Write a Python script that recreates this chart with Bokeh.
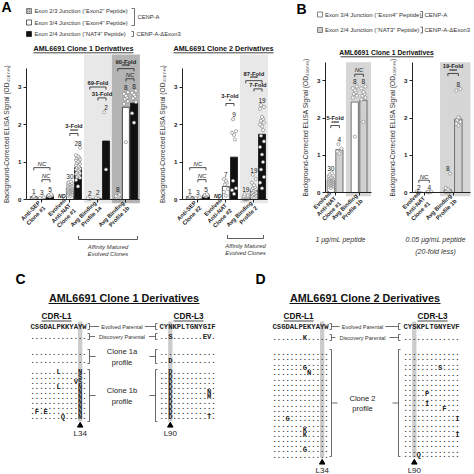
import math
from bokeh.plotting import figure
from bokeh.models import Range1d, LinearAxis, FixedTicker
from bokeh.embed import file_html
from bokeh.resources import INLINE
from bokeh.core.properties import value

# ---------------- DATA ----------------
# Panel A (left chart): AML6691 Clone 1 derivatives
a1_groups = ["Anti-SEP\nClone #1", "Evolved\nAnti-NAT\nClone #1", "Avg Binding\nProfile 1a", "Avg Binding\nProfile 1b"]
a1_exon2 = [0.08, None, 0.02, 0.05]
a1_exon4 = [0.04, 0.30, 0.03, 2.46]
a1_nat4 = [0.11, 0.85, 1.56, 2.57]
a1_exon2_pts = [[0.08], [], [0.01, 0.03], [0.0, 0.02, 0.03, 0.05, 0.06, 0.08, 0.09, 0.13]]
a1_exon4_pts = [[0.02, 0.04, 0.06],
                [0.08, 0.11, 0.13, 0.15, 0.16, 0.18, 0.19, 0.2, 0.21, 0.22, 0.23, 0.24, 0.25, 0.26, 0.27,
                 0.28, 0.29, 0.3, 0.31, 0.32, 0.33, 0.35, 0.36, 0.38, 0.4, 0.41, 0.43, 0.44, 0.46, 0.48],
                [0.02, 0.05],
                [1.53, 2.55, 2.62, 2.68, 2.72, 2.77, 2.82, 2.86]]
a1_nat4_pts = [[0.08, 0.1, 0.11, 0.12, 0.14],
               [0.35, 0.52, 0.58, 0.6, 0.63, 0.66, 0.68, 0.7, 0.72, 0.75, 0.78, 0.8, 0.82, 0.85, 0.87,
                0.9, 0.92, 0.95, 0.97, 1.0, 1.02, 1.05, 1.07, 1.1, 1.12, 1.15, 1.18, 1.38],
               [0.8, 2.33],
               [2.05, 2.3, 2.6, 2.7, 2.75, 2.8, 2.85, 2.9]]
# (group, series, group, series, bracket height, label, stars); series 0=Exon2, 1=Exon4, 2=NAT4
a1_stats = [(1, 0, 1, 2, 0.85, "NC", ""), (1, 1, 1, 2, 0.53, "NC", ""),
            (2, 1, 2, 2, 1.76, "3-Fold", "****"),
            (3, 0, 3, 2, 3.0, "69-Fold", ""), (3, 1, 3, 2, 2.71, "31-Fold", ""),
            (4, 0, 4, 2, 3.49, "90-Fold", "****"), (4, 1, 4, 2, 3.22, "NC", "")]

# Panel A (right chart): AML6691 Clone 2 derivatives
a2_groups = ["Anti-SEP\nClone #2", "Evolved\nAnti-NAT\nClone #2", "Avg Binding\nProfile 2"]
a2_exon2 = [0.08, None, 0.04]
a2_exon4 = [0.04, 0.35, 0.25]
a2_nat4 = [0.11, 1.13, 1.74]
a2_exon2_pts = [[0.08], [],
                [0.0, 0.0, 0.01, 0.01, 0.02, 0.02, 0.03, 0.03, 0.03, 0.04, 0.04, 0.05, 0.05, 0.06, 0.07, 0.08, 0.09, 0.11, 0.14]]
a2_exon4_pts = [[0.02, 0.04, 0.06], [0.1, 0.2, 0.28, 0.4, 0.45, 0.5, 0.55],
                [0.05, 0.08, 0.1, 0.12, 0.14, 0.15, 0.17, 0.18, 0.2, 0.22, 0.24, 0.26, 0.28, 0.3, 0.33, 0.38, 0.45, 0.55, 0.66]]
a2_nat4_pts = [[0.08, 0.1, 0.11, 0.12, 0.14], [0.15, 0.25, 0.3, 0.5, 1.6, 1.72, 1.78, 1.82, 2.14],
               [0.3, 0.45, 0.6, 0.8, 1.0, 1.2, 1.4, 1.55, 1.7, 1.85, 1.95, 2.0, 2.05, 2.1, 2.15, 2.2, 2.42, 2.47, 2.52]]
a2_stats = [(1, 0, 1, 2, 0.85, "NC", ""), (1, 1, 1, 2, 0.53, "NC", ""),
            (2, 1, 2, 2, 2.56, "3-Fold", "*"),
            (3, 0, 3, 2, 3.17, "87-Fold", "****"), (3, 1, 3, 2, 2.95, "7-Fold", "")]

# Panel B: 1 ug/mL and 0.05 ug/mL peptide; series 0=Exon4, 1=NAT3
b_groups = ["Evolved\nAnti-NAT\nClone #1", "Avg Binding\nProfile 1b"]
b1_exon4 = [0.33, 2.43]
b1_nat3 = [1.15, 2.48]
b1_exon4_pts = [[0.12, 0.15, 0.17, 0.19, 0.2, 0.21, 0.22, 0.23, 0.24, 0.25, 0.26, 0.27, 0.28, 0.29, 0.3,
                 0.31, 0.32, 0.33, 0.34, 0.35, 0.36, 0.37, 0.38, 0.39, 0.4, 0.42, 0.44, 0.46, 0.48, 0.52],
                [1.5, 2.55, 2.6, 2.65, 2.7, 2.75, 2.8, 2.85]]
b1_nat3_pts = [[1.05, 1.1, 1.18, 1.3], [1.9, 2.5, 2.55, 2.6, 2.65, 2.7, 2.8, 2.85]]
b1_stats = [(1, 0, 1, 1, 1.8, "5-Fold", "****"), (2, 0, 2, 1, 3.18, "NC", "")]
b2_exon4 = [0.01, 0.07]
b2_nat3 = [0.01, 1.97]
b2_exon4_pts = [[0.0, 0.02], [0.0, 0.01, 0.02, 0.03, 0.05, 0.08, 0.12, 0.51]]
b2_nat3_pts = [[0.0, 0.01, 0.02, 0.02], [1.8, 1.85, 1.9, 1.95, 2.0, 2.02, 2.74, 2.78]]
b2_stats = [(1, 0, 1, 1, 0.33, "NC", ""), (2, 0, 2, 1, 3.2, "19-Fold", "****")]

# Panel C: clone 1 derivative sequences
c_l1_parent = "CSGDALPKKYAYW"
c_l3_parent = "CYNKPLTGNYGIF"
c_l1_discovery = "............."
c_l3_discovery = "..S.......EV."
c_l1_clone1a = [".............", "............."]
c_l3_clone1a = [".............", "..D.........."]
c_l1_clone1b = ["......L....N.", "...........S.", "..........VS.", "......L....N.", "...........N.",
                "...........N.", "...........N.", "...........N.", ".F.E.......N.", ".......Q...N."]
c_l3_clone1b = ["..D..........", "..D..........", "..D..........", "..D..........", "..D........N.",
                "..D........M.", "..D..........", "..D..........", "..D..........", "..D........T."]

# Panel D: clone 2 derivative sequences
d_l1_parent = "CSGDALPEKYAYW"
d_l3_parent = "CYSKPLTGNYEVF"
d_l1_discovery = ".......K....."
d_l3_discovery = "............."
d_l1_clone2 = [".............", ".............", ".............", ".......G.....", "........N....",
               ".............", ".............", ".............", ".............", ".............",
               ".............", ".............", ".............", "...G.........", ".............",
               ".......K.....", ".......K.....", ".............", ".............", ".......G.....",
               "............."]
d_l3_clone2 = [".............", ".............", ".............", "........S....", ".............",
               ".............", ".............", ".............", ".....P.......", ".............",
               ".....I.......", ".........F...", ".............", "............I", ".............",
               ".............", "............I", ".............", ".............", ".............",
               "...Q........."]

# ---------------- FIGURE ----------------
W = H = 474
SANS = "Liberation Sans"
MONO = "Liberation Mono"

p = figure(width=W, height=H, x_range=Range1d(0, W), y_range=Range1d(H, 0),
           x_axis_type=None, y_axis_type=None, toolbar_location=None,
           output_backend="svg", min_border=0, outline_line_color=None,
           background_fill_color="white", border_fill_color="white")

# placement of the chart coordinate systems (pixel of axis, data value there, px per unit)
xr_specs = {"a1": (26, 0.45, 28.0), "a2": (182, 0.45, 28.0), "b1": (325, 0.6, 24.0), "b2": (412, 0.6, 29.0)}
yr_specs = {"ya": (199, 37.5), "yb": (192, 37.2)}
ex = {}
for name, (px, val, ppu) in xr_specs.items():
    s = val - px / ppu
    ex[name] = Range1d(s, s + W / ppu)
ey = {}
for name, (px, ppu) in yr_specs.items():
    ey[name] = Range1d(-(H - px) / ppu, px / ppu)
p.extra_x_ranges = ex
p.extra_y_ranges = ey


def txt(x, y, s, size, color="#222", style="normal", align="center", baseline="middle", font=SANS, **kw):
    p.text(x=[x], y=[y], text=[s], text_font=value(font), text_font_size=f"{size}px",
           text_font_style=style, text_color=color, text_align=align, text_baseline=baseline, **kw)


JIT = [0.0, -0.28, 0.28, -0.14, 0.14]


def draw_chart(xr, yr, labels, means, pts, styles, offs, bw, x_lo, x_hi, shades, stats, tick_fs):
    kw = dict(x_range_name=xr, y_range_name=yr)
    for (l, r, col, top) in shades:
        p.quad(left=[l], right=[r], bottom=[-0.1], top=[top], fill_color=col, line_color=None, **kw)
    for si, (mvals, st) in enumerate(zip(means, styles)):
        xs = [g + 1 + offs[si] for g in range(len(mvals)) if mvals[g] is not None]
        tops = [m for m in mvals if m is not None]
        p.vbar(x=xs, top=tops, bottom=0, width=bw, line_width=0.8, **st, **kw)
    for si, (mvals, pvals) in enumerate(zip(means, pts)):
        for g, plist in enumerate(pvals):
            x0 = g + 1 + offs[si]
            if mvals[g] is None:
                txt(x0, 0.02, "ND", 5.3, style="bold italic", baseline="bottom", **kw)
                continue
            xs = [x0 + JIT[k % len(JIT)] * bw for k in range(len(plist))]
            p.scatter(x=xs, y=plist, size=3.2, marker="circle", fill_color="white",
                      line_color="#777", line_width=0.6, **kw)
            top = max(plist + [mvals[g]])
            txt(x0, top + 0.06, str(len(plist)), 6.5, baseline="bottom", **kw)
    for (g1, s1, g2, s2, yb, lab, stars) in stats:
        x1 = g1 + offs[s1]
        x2 = g2 + offs[s2]
        p.multi_line(xs=[[x1, x1, x2, x2]], ys=[[yb - 0.07, yb, yb, yb - 0.07]],
                     line_color="#222", line_width=0.8, **kw)
        xm = (x1 + x2) / 2
        if lab == "NC":
            txt(xm, yb + 0.1, "NC", 6, style="italic", **kw)
        elif stars:
            txt(xm, yb + 0.07, stars, 5, style="bold", **kw)
            txt(xm, yb + 0.19, lab, 5.8, style="bold", **kw)
        else:
            txt(xm, yb + 0.1, lab, 5.8, style="bold", **kw)
    yax = LinearAxis(x_range_name=xr, y_range_name=yr, fixed_location=x_lo, bounds=(0, 3.5),
                     ticker=FixedTicker(ticks=[0, 1, 2, 3]),
                     axis_label="Background-Corrected ELISA Signal (OD₄₅₀ₙₘ)")
    xax = LinearAxis(x_range_name=xr, y_range_name=yr, fixed_location=0, bounds=(x_lo, x_hi),
                     ticker=FixedTicker(ticks=list(range(1, len(labels) + 1))),
                     major_label_overrides={i + 1: lab for i, lab in enumerate(labels)},
                     major_label_orientation=math.pi / 4)
    for ax in (yax, xax):
        ax.axis_line_color = "#222"
        ax.axis_line_width = 1
        ax.major_tick_line_color = "#222"
        ax.major_tick_in = 0
        ax.major_tick_out = 3
        ax.minor_tick_in = 0
        ax.minor_tick_out = 0
        ax.major_label_text_font = SANS
        ax.major_label_text_color = "#222"
        ax.major_label_text_font_style = "bold"
        ax.major_label_standoff = 2
    yax.major_label_text_font_size = "6.2px"
    yax.axis_label_text_font = SANS
    yax.axis_label_text_font_size = "6.6px"
    yax.axis_label_text_font_style = "normal"
    yax.axis_label_text_color = "#333"
    yax.axis_label_standoff = 5
    xax.major_label_text_font_size = f"{tick_fs}px"
    p.add_layout(yax, "left")
    p.add_layout(xax, "below")


EXON2 = dict(fill_color="#c4c4c4", line_color="#555", hatch_pattern="dot", hatch_color="#777",
             hatch_scale=2.0, hatch_weight=0.6)
EXON4 = dict(fill_color="white", line_color="#222")
NAT4 = dict(fill_color="#111111", line_color="#111111")
B_EXON4 = dict(fill_color="white", line_color="#555")
B_NAT3 = dict(fill_color="#d0d0d0", line_color="#555")

A_OFF = [-0.29, 0.0, 0.29]
B_OFF = [-0.18, 0.18]

draw_chart("a1", "ya", a1_groups, [a1_exon2, a1_exon4, a1_nat4], [a1_exon2_pts, a1_exon4_pts, a1_nat4_pts],
           [EXON2, EXON4, NAT4], A_OFF, 0.25, 0.45, 4.5,
           [(2.5, 3.5, "#e8e8e8", 3.87), (3.5, 4.5, "#b4b4b4", 3.87)], a1_stats, 5.8)
draw_chart("a2", "ya", a2_groups, [a2_exon2, a2_exon4, a2_nat4], [a2_exon2_pts, a2_exon4_pts, a2_nat4_pts],
           [EXON2, EXON4, NAT4], A_OFF, 0.25, 0.45, 3.5,
           [(2.5, 3.5, "#e8e8e8", 3.87)], a2_stats, 5.8)
draw_chart("b1", "yb", b_groups, [b1_exon4, b1_nat3], [b1_exon4_pts, b1_nat3_pts],
           [B_EXON4, B_NAT3], B_OFF, 0.3, 0.6, 2.5,
           [(1.45, 2.5, "#d6d6d6", 3.5)], b1_stats, 5.8)
draw_chart("b2", "yb", b_groups, [b2_exon4, b2_nat3], [b2_exon4_pts, b2_nat3_pts],
           [B_EXON4, B_NAT3], B_OFF, 0.26, 0.6, 2.6,
           [(1.55, 2.6, "#d6d6d6", 3.5)], b2_stats, 5.8)

# ---------- panel letters, legends, titles, captions (pixel coords) ----------
for (lx, ly, L) in [(1, 6, "A"), (296, 8, "B"), (15, 278, "C"), (255, 278, "D")]:
    txt(lx, ly, L, 14, color="black", style="bold", align="left")

# legend A
leg_a_text = ["Exon 2/3 Junction (“Exon2” Peptide)", "Exon 3/4 Junction (“Exon4” Peptide)",
              "Exon 2/4 Junction (“NAT4” Peptide)"]
leg_a_y = [10.5, 22, 33.5]
for yy, t, st in zip(leg_a_y, leg_a_text, [EXON2, EXON4, NAT4]):
    p.quad(left=[26], right=[31], top=[yy - 2.5], bottom=[yy + 2.5], line_width=0.7, **st)
    txt(34, yy, t, 5.8, color="#333", align="left")
p.multi_line(xs=[[131, 134, 134, 131], [131, 133, 133, 131]], ys=[[8, 8, 25, 25], [31, 31, 36, 36]],
             line_color="#333", line_width=0.7)
txt(137, 16.5, "CENP-A", 5.8, color="#333", align="left")
txt(136, 33.5, "CENP-A-ΔExon3", 5.8, color="#333", align="left")

# legend B
leg_b_text = ["Exon 3/4 Junction (“Exon4” Peptide)", "Exon 2/4 Junction (“NAT3” Peptide)"]
leg_b_y = [14, 29.5]
for yy, t, st in zip(leg_b_y, leg_b_text, [B_EXON4, B_NAT3]):
    p.quad(left=[317], right=[322], top=[yy - 2.5], bottom=[yy + 2.5], line_width=0.7, **st)
    txt(324.5, yy, t, 6.0, color="#333", align="left")
    p.multi_line(xs=[[420, 422, 422, 420]], ys=[[yy - 3, yy - 3, yy + 3, yy + 3]], line_color="#333", line_width=0.7)
txt(424, 14, "CENP-A", 6.0, color="#333", align="left")
txt(424, 29.5, "CENP-A-ΔExon3", 6.0, color="#333", align="left")

# chart titles (underlined)
for (cx, cy, x0, x1, t, fs) in [(83, 48, 33, 133, "AML6691 Clone 1 Derivatives", 7.2),
                                (223, 48, 173, 273, "AML6691 Clone 2 Derivatives", 7.2),
                                (386, 52, 340, 433, "AML6691 Clone 1 Derivatives", 6.8)]:
    txt(cx, cy, t, fs, color="#111", style="bold")
    p.segment(x0=[x0], y0=[cy + 4.3], x1=[x1], y1=[cy + 4.3], line_color="#111", line_width=0.8)

# affinity matured brackets
for (x0, x1, yy) in [(78, 137, 239), (227, 263, 238)]:
    p.multi_line(xs=[[x0, x0, x1, x1]], ys=[[yy - 3.5, yy, yy, yy - 3.5]], line_color="#333", line_width=0.8)
    txt((x0 + x1) / 2, yy + 7, "Affinity Matured", 5.8, color="#333", style="italic")
    txt((x0 + x1) / 2, yy + 14, "Evolved Clones", 5.8, color="#333", style="italic")

txt(340, 239, "1 μg/mL peptide", 7, color="#333", style="italic")
txt(435, 239, "0.05 μg/mL peptide", 7, color="#333", style="italic")
txt(435, 251, "(20-fold less)", 7, color="#333", style="italic")

# ---------- panels C and D: sequence alignments ----------
FS = 7.2
PITCH = 0.6 * FS


def seq_rows(x0, ys, rows):
    p.text(x=[x0] * len(rows), y=ys, text=rows, text_font=value(MONO), text_font_size=f"{FS}px",
           text_font_style="bold", text_color="#222", text_align="left", text_baseline="middle")


def panel(title, tcx, l1x, l3x, hl1, hl3, ys, l1rows, l3rows, hl_top, hl_bot, lx, rx, lab_cx,
          groups, arrow_y):
    txt(tcx, 297, title, 10.8, color="#111", style="bold")
    p.segment(x0=[tcx - 75.5], y0=[303], x1=[tcx + 75.5], y1=[303], line_color="#111", line_width=1)
    for cx, t in [(l1x + 6.5 * PITCH - 2, "CDR-L1"), (l3x + 6.5 * PITCH + 1, "CDR-L3")]:
        txt(cx, 315.5, t, 8.2, color="#111", style="bold")
        p.segment(x0=[cx - 15], y0=[320.5], x1=[cx + 15], y1=[320.5], line_color="#111", line_width=0.8)
    for x0, col in [(l1x, hl1), (l3x, hl3)]:
        cx = x0 + (col + 0.5) * PITCH
        p.quad(left=[cx - PITCH / 2], right=[cx + PITCH / 2], top=[hl_top], bottom=[hl_bot],
               fill_color="#cccccc", line_color=None)
    seq_rows(l1x, ys, l1rows)
    seq_rows(l3x, ys, l3rows)
    for x0, col, name in [(l1x, hl1, "L34"), (l3x, hl3, "L90")]:
        cx = x0 + (col + 0.5) * PITCH
        p.scatter(x=[cx], y=[arrow_y], marker="triangle", size=5.5, fill_color="black", line_color="black")
        txt(cx, arrow_y + 8, name, 8, color="#222")
    # parental labels
    for yy, t, w in [(ys[0], "Evolved Parental", 41.6), (ys[1], "Discovery Parental", 50.0)]:
        txt(lab_cx, yy, t, 5.5, color="#333")
        p.multi_line(xs=[[lx - 2, lx, lx, lx - 2], [rx + 2, rx, rx, rx + 2]],
                     ys=[[yy - 3, yy - 3, yy + 3, yy + 3]] * 2, line_color="#333", line_width=0.7)
        p.segment(x0=[lx, lab_cx + w / 2 + 2], y0=[yy, yy], x1=[lab_cx - w / 2 - 2, rx], y1=[yy, yy],
                  line_color="#333", line_width=0.7)
    # clone profile brackets
    for (top, bot, l1, l2) in groups:
        mid = (top + bot) / 2
        p.multi_line(xs=[[lx - 2, lx, lx, lx - 2], [rx + 2, rx, rx, rx + 2], [lx, lx + 6], [rx, rx - 6]],
                     ys=[[top, top, bot, bot], [top, top, bot, bot], [mid, mid], [mid, mid]],
                     line_color="#444", line_width=0.8)
        txt(lab_cx, mid - 5, l1, 7.6, color="#222")
        txt(lab_cx, mid + 5.5, l2, 7.6, color="#222")


c_ys = [326, 336, 352, 360] + [371 + 5.1 * i for i in range(len(c_l1_clone1b))]
panel("AML6691 Clone 1 Derivatives", 123.5, 30, 159, 11, 2, c_ys,
      [c_l1_parent, c_l1_discovery] + c_l1_clone1a + c_l1_clone1b,
      [c_l3_parent, c_l3_discovery] + c_l3_clone1a + c_l3_clone1b,
      321, 421, 89, 155, 121.5,
      [(349, 363, "Clone 1a", "profile"), (369, 421, "Clone 1b", "profile")], 425)

d_ys = [326, 337] + [352.3 + 5.12 * i for i in range(len(d_l1_clone2))]
panel("AML6691 Clone 2 Derivatives", 364.5, 272, 403, 11, 2, d_ys,
      [d_l1_parent, d_l1_discovery] + d_l1_clone2,
      [d_l3_parent, d_l3_discovery] + d_l3_clone2,
      321, 457, 331, 398, 362,
      [(349, 456, "Clone 2", "profile")], 462)

open("out.html", "w").write(file_html(p, INLINE))
